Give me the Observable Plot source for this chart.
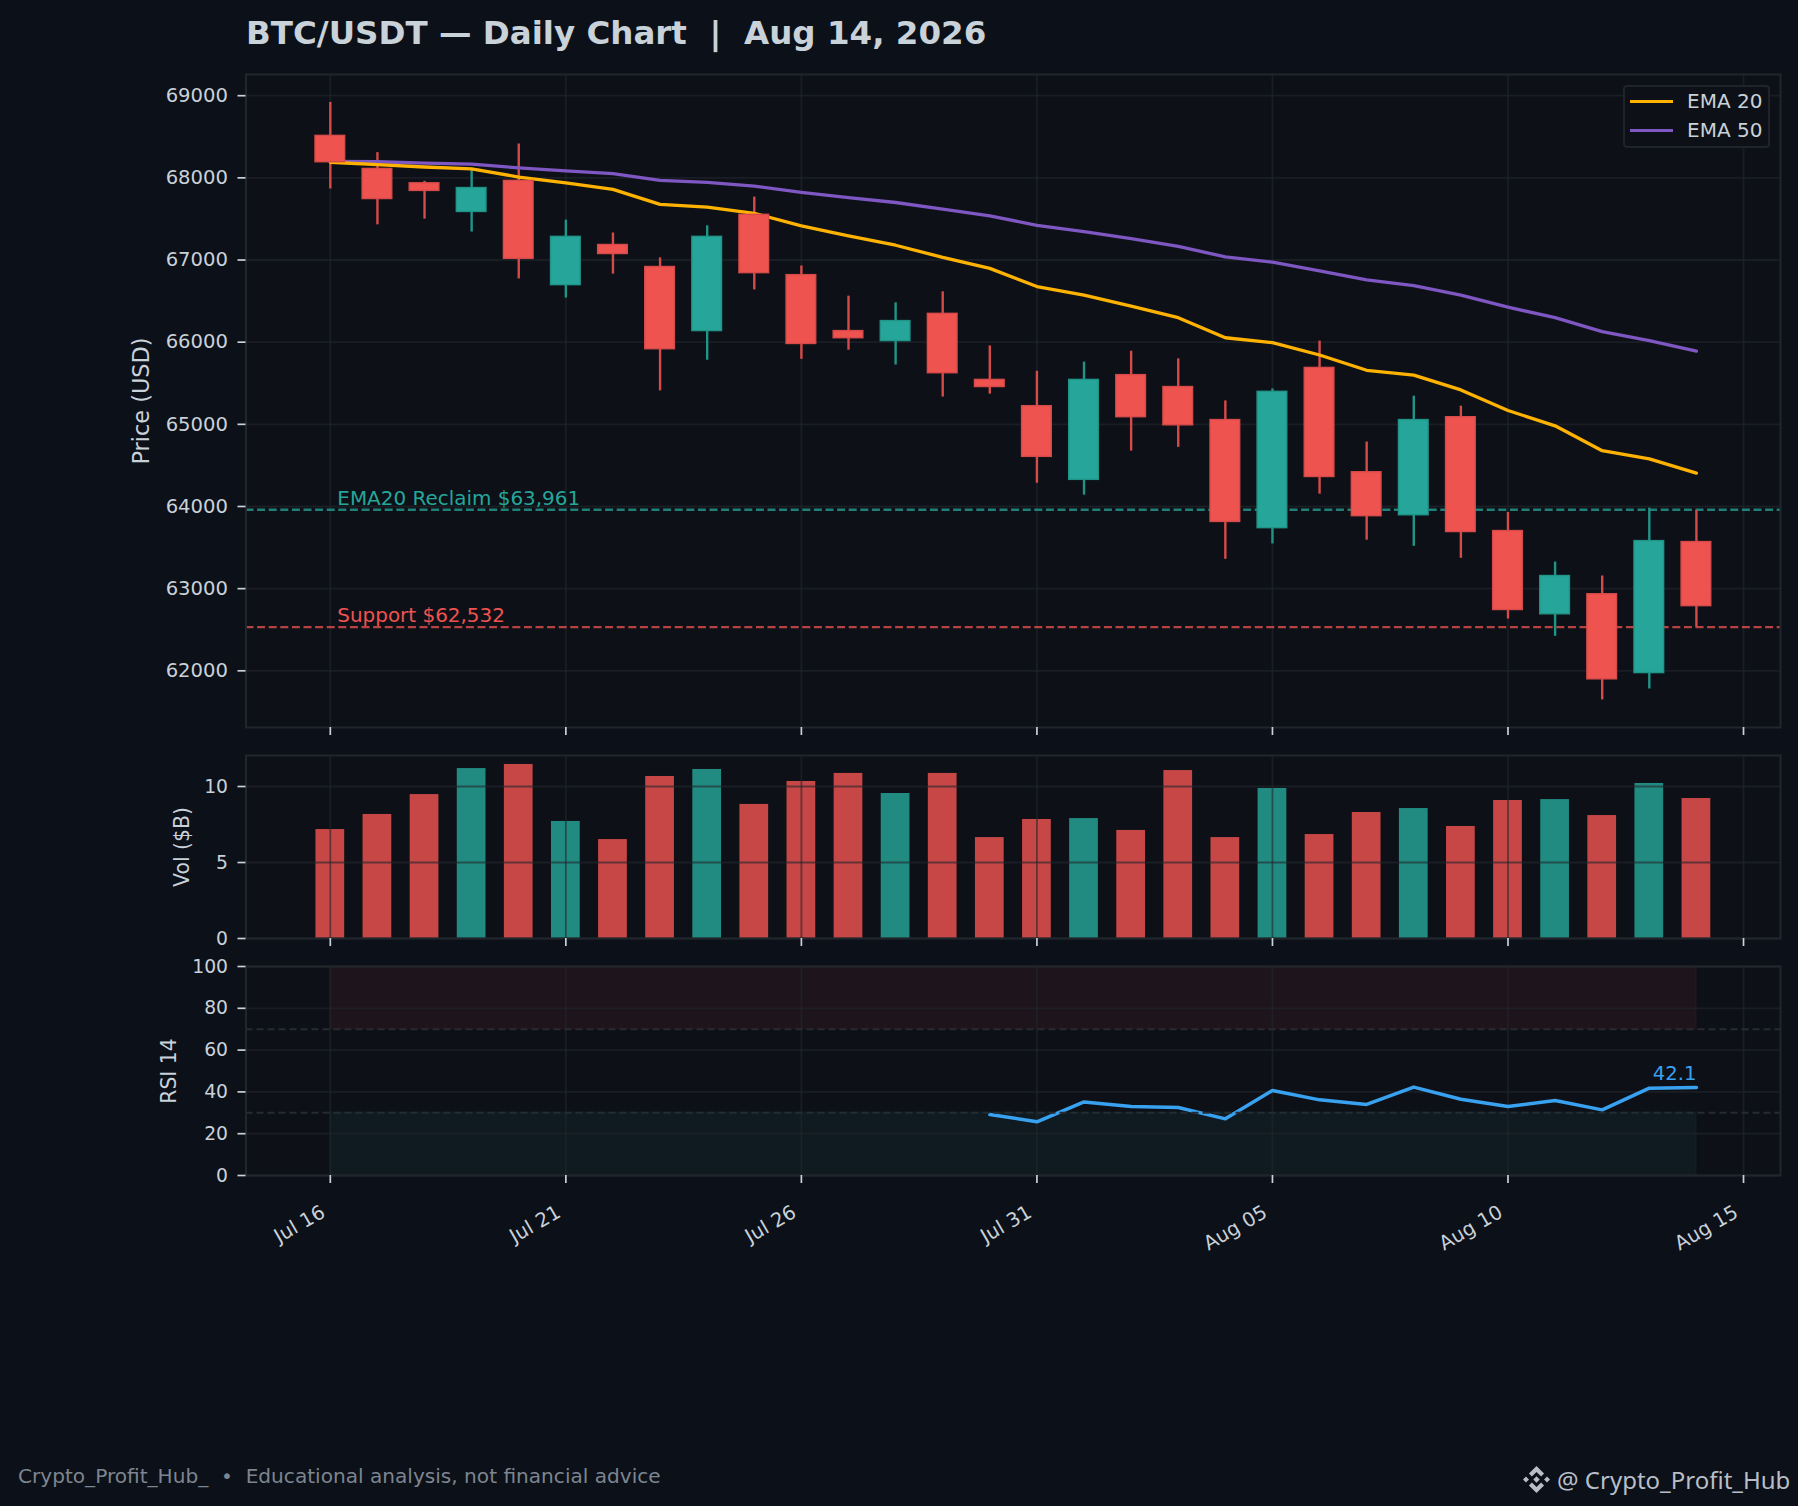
<!DOCTYPE html>
<html>
<head>
<meta charset="utf-8">
<script src="https://cdn.jsdelivr.net/npm/d3@7"></script>
<script src="https://cdn.jsdelivr.net/npm/@observablehq/plot@0.6"></script>
<style>
html,body{margin:0;padding:0;background:#0c1018;}
#page{position:relative;width:1798px;height:1506px;background:#0c1018;overflow:hidden;font-family:"DejaVu Sans",sans-serif;}
#page>div{position:absolute;white-space:pre;}
.panel svg{display:block;overflow:visible;background:transparent;}
#title{left:246px;top:14px;font-size:32.5px;font-weight:bold;color:#c9d1d9;line-height:38px;}
#footer{left:18px;top:1464px;font-size:20.1px;color:#7d8590;line-height:24px;}
#mark{left:1523px;top:1463px;width:275px;height:32px;display:flex;align-items:center;color:#b8bec8;font-family:"Noto Sans",sans-serif;font-size:24px;}
#legend{left:1623px;top:84.5px;width:147px;height:63px;background:#0d1117;border:2px solid #1e232c;border-radius:4px;box-sizing:border-box;}
#legend div{position:absolute;}
#legend .sw{left:5px;width:43px;height:3.2px;}
#legend .tx{left:62px;color:#c9d1d9;font-size:20px;line-height:22px;}
</style>
</head>
<body>
<div id="page">
  <div id="title">BTC/USDT — Daily Chart  |  Aug 14, 2026</div>
  <div class="panel" id="p1" style="left:0;top:0"></div>
  <div class="panel" id="p2" style="left:0;top:735px"></div>
  <div class="panel" id="p3" style="left:0;top:950px"></div>
  <div id="legend">
    <div class="sw" style="top:13.5px;background:#ffb300"></div><div class="tx" style="top:3px">EMA 20</div>
    <div class="sw" style="top:42.5px;background:#7e57c2"></div><div class="tx" style="top:32px">EMA 50</div>
  </div>
  <div id="footer">Crypto_Profit_Hub_  •  Educational analysis, not financial advice</div>
  <div id="mark"><svg width="27" height="27" viewBox="0 0 100 100" fill="#b8bec8" style="margin-right:7px"><polygon points="50,38 62,50 50,62 38,50"/><polygon points="0,50 11,39 22,50 11,61"/><polygon points="78,50 89,39 100,50 89,61"/><polygon points="50,0 78,28 67,39 50,22 33,39 22,28"/><polygon points="50,100 78,72 67,61 50,78 33,61 22,72"/></svg><span>@ Crypto_Profit_Hub</span></div>
</div>
<script>
const dates = ["2026-07-16","2026-07-17","2026-07-18","2026-07-19","2026-07-20","2026-07-21","2026-07-22","2026-07-23","2026-07-24","2026-07-25","2026-07-26","2026-07-27","2026-07-28","2026-07-29","2026-07-30","2026-07-31","2026-08-01","2026-08-02","2026-08-03","2026-08-04","2026-08-05","2026-08-06","2026-08-07","2026-08-08","2026-08-09","2026-08-10","2026-08-11","2026-08-12","2026-08-13","2026-08-14"];
const opens  = [68511,68109,67934,67585,67963,66694,67183,66915,66135,67550,66816,66135,66013,66345,65541,65221,64324,65599,65454,65052,63736,65687,64417,63893,65087,63701,62688,62932,61972,63567];
const closes = [68190,67742,67841,67876,67014,67282,67073,65914,67282,66840,65978,66048,66257,65622,65454,64604,65541,65087,64988,63812,65396,64359,63882,65052,63689,62740,63154,61896,63579,62787];
const highs  = [68918,68307,67958,68092,68412,67486,67329,67026,67416,67766,66927,66560,66479,66613,65955,65646,65757,65890,65797,65285,65431,66013,64784,65343,65221,63928,63323,63154,63980,63952];
const lows   = [67865,67428,67498,67340,66770,66537,66828,65407,65780,66636,65791,65902,65722,65332,65367,64283,64138,64674,64720,63357,63544,64150,63590,63515,63369,62630,62420,61646,61779,62531];
const ema20  = [68190,68161,68132,68109,68010,67940,67859,67678,67643,67568,67416,67294,67180,67032,66898,66677,66572,66438,66298,66054,65995,65844,65658,65599,65419,65168,64982,64679,64580,64406];
const ema50  = [68200,68196,68179,68167,68121,68086,68051,67969,67946,67900,67824,67760,67700,67620,67538,67422,67346,67259,67166,67038,66974,66869,66758,66688,66572,66426,66298,66129,66019,65891];
const volume = [7.17,8.16,9.47,11.18,11.45,7.70,6.51,10.66,11.12,8.82,10.33,10.86,9.54,10.86,6.64,7.83,7.89,7.11,11.05,6.64,9.87,6.84,8.29,8.55,7.37,9.08,9.14,8.09,10.2,9.21];
const rsi    = [null,null,null,null,null,null,null,null,null,null,null,null,null,null,29.2,25.7,35.2,33.0,32.5,27.1,40.7,36.2,34.0,42.3,36.5,33.0,35.9,31.4,41.8,42.1];
const priceTicks = [62000,63000,64000,65000,66000,67000,68000,69000];
const volTicks = [0,5,10];
const rsiTicks = [0,20,40,60,80,100];
const xTickDates = ["2026-07-16","2026-07-21","2026-07-26","2026-07-31","2026-08-05","2026-08-10","2026-08-15"];
const supportLevel = 62532, reclaimLevel = 63961;
const supportLabel = "Support $62,532", reclaimLabel = "EMA20 Reclaim $63,961";
const rsiLast = "42.1";

const DAY = 864e5;
const rows = dates.map((d,i)=>({date:new Date(d),open:opens[i],close:closes[i],high:highs[i],low:lows[i],ema20:ema20[i],ema50:ema50[i],vol:volume[i],rsi:rsi[i],up:closes[i]>=opens[i]}));
const xTicks = xTickDates.map(d=>new Date(d));
const t0 = rows[0].date, tN = rows[rows.length-1].date;
const xDomain = [new Date(+t0-1.79*DAY), new Date(+t0+30.785*DAY)];
const RED="#ef5350", TEAL="#26a69a", RED_E="#d64b49", TEAL_E="#219488", GRID="#21262d", GOP=.6, EDGE="#21262d", TICK="#c9d1d9", BG="#0d1117";
const col = d=>d.up?TEAL:RED;
const edge = d=>d.up?TEAL_E:RED_E;
const base = {width:1798, marginLeft:245.5, marginRight:18, style:{background:"transparent",fontFamily:"DejaVu Sans",overflow:"visible"}};
const gridMarks = (yt)=>[
  Plot.gridX(xTicks,{x:d=>d,stroke:GRID,strokeOpacity:GOP,strokeWidth:1.8}),
  Plot.gridY(yt,{y:d=>d,stroke:GRID,strokeOpacity:GOP,strokeWidth:1.8})
];
const yAxis = (yt,size)=>Plot.axisY(yt,{y:d=>d,tickSize:8,tickPadding:10,color:TICK,strokeWidth:1.7,fontSize:size,label:null,tickFormat:d=>String(d)});
const xTicksOnly = Plot.axisX(xTicks,{x:d=>d,tickSize:8,stroke:TICK,fill:"none",strokeWidth:1.7,label:null,tickPadding:0});
const yLabel = (txt,dx,size)=>Plot.text([txt],{text:d=>d,frameAnchor:"left",textAnchor:"middle",dx,rotate:-90,fontSize:size,fill:TICK});

document.getElementById("p1").append(Plot.plot({...base,height:747,marginTop:74,marginBottom:20,
  x:{type:"utc",domain:xDomain},y:{domain:[61310,69258]},
  marks:[
    Plot.frame({fill:BG,stroke:null}),
    ...gridMarks(priceTicks),
    Plot.ruleY([reclaimLevel],{stroke:TEAL,strokeOpacity:.75,strokeWidth:2.4,strokeDasharray:"8,3.6"}),
    Plot.ruleY([supportLevel],{stroke:RED,strokeOpacity:.75,strokeWidth:2.4,strokeDasharray:"8,3.6"}),
    Plot.text([reclaimLabel],{text:d=>d,x:()=>t0,y:()=>reclaimLevel,dx:7,dy:-11,textAnchor:"start",fontSize:19.95,fill:TEAL}),
    Plot.text([supportLabel],{text:d=>d,x:()=>t0,y:()=>supportLevel,dx:7,dy:-11,textAnchor:"start",fontSize:19.95,fill:RED}),
    Plot.ruleX(rows,{x:"date",y1:"low",y2:"high",stroke:edge,strokeWidth:2.4}),
    Plot.line(rows,{x:"date",y:"ema50",stroke:"#7e57c2",strokeWidth:3.3,curve:"linear"}),
    Plot.line(rows,{x:"date",y:"ema20",stroke:"#ffb300",strokeWidth:3.3,curve:"linear"}),
    Plot.rectY(rows,{x1:d=>new Date(+d.date-.315*DAY),x2:d=>new Date(+d.date+.315*DAY),y1:"open",y2:"close",fill:col,stroke:edge,strokeWidth:1.4}),
    Plot.frame({stroke:EDGE,strokeWidth:2}),
    yAxis(priceTicks,19.6),
    xTicksOnly,
    yLabel("Price (USD)",-104,22.4)
  ]}));

document.getElementById("p2").append(Plot.plot({...base,height:223,marginTop:20,marginBottom:20,
  x:{type:"utc",domain:xDomain},y:{domain:[0,12.04]},
  marks:[
    Plot.frame({fill:BG,stroke:null}),
    Plot.rectY(rows,{x1:d=>new Date(+d.date-.305*DAY),x2:d=>new Date(+d.date+.305*DAY),y1:0,y2:"vol",fill:col,fillOpacity:.82}),
    ...gridMarks(volTicks),
    Plot.frame({stroke:EDGE,strokeWidth:2}),
    yAxis(volTicks,18.75),
    xTicksOnly,
    yLabel("Vol ($B)",-64,20.4)
  ]}));

document.getElementById("p3").append(Plot.plot({...base,height:325,marginTop:16,marginBottom:100,
  x:{type:"utc",domain:xDomain},y:{domain:[0,100]},
  marks:[
    Plot.frame({fill:BG,stroke:null}),
    Plot.rectY([0],{x1:()=>t0,x2:()=>tN,y1:70,y2:100,fill:RED,fillOpacity:.07,stroke:RED,strokeOpacity:.05,strokeWidth:2}),
    Plot.rectY([0],{x1:()=>t0,x2:()=>tN,y1:0,y2:30,fill:TEAL,fillOpacity:.07,stroke:TEAL,strokeOpacity:.05,strokeWidth:2}),
    ...gridMarks(rsiTicks),
    Plot.line(rows.filter(d=>d.rsi!=null),{x:"date",y:"rsi",stroke:"#38a1f0",strokeWidth:3.5}),
    Plot.ruleY([70,30],{stroke:"#262b33",strokeWidth:2,strokeDasharray:"7,4"}),
    Plot.text([rsiLast],{text:d=>d,x:()=>tN,y:()=>42.1,dy:-14,textAnchor:"end",fontSize:19.6,fill:"#38a1f0"}),
    Plot.frame({stroke:EDGE,strokeWidth:2}),
    yAxis(rsiTicks,18.75),
    xTicksOnly,
    Plot.axisX(xTicks,{x:d=>d,tickSize:8,stroke:"none",tickPadding:10,fill:TICK,fontSize:19.6,tickRotate:-30,dx:-7,dy:17,label:null,tickFormat:d3.utcFormat("%b %d")}),
    yLabel("RSI 14",-77,20.4)
  ]}));
</script>
</body>
</html>
